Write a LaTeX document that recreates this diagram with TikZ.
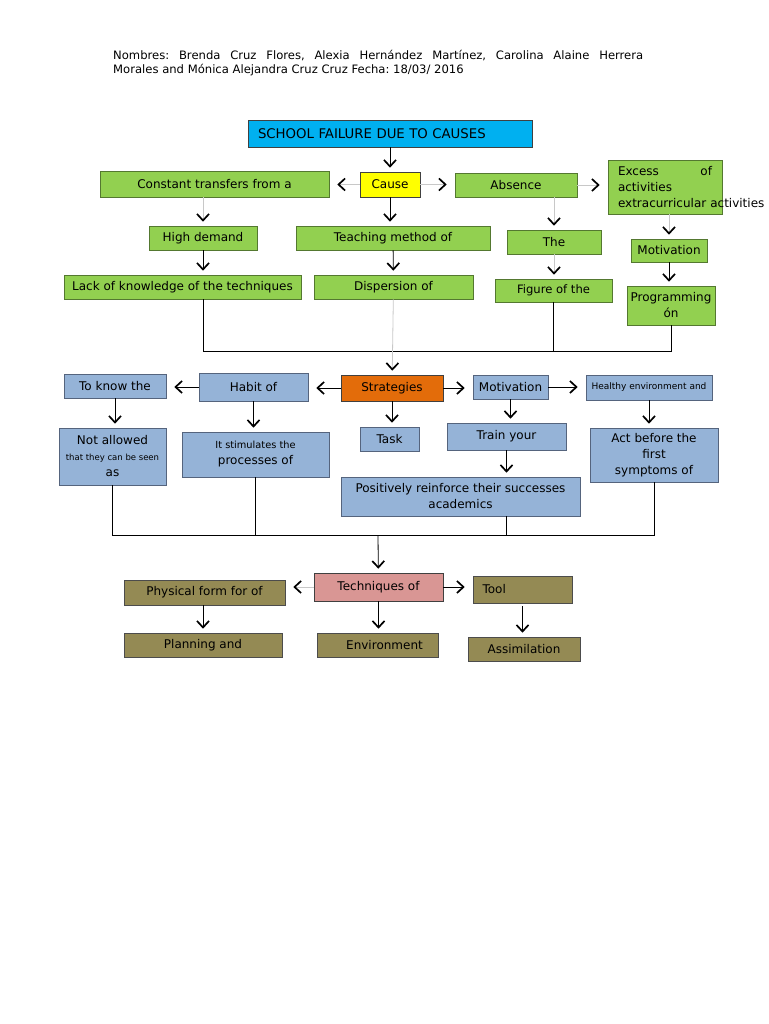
\documentclass[tikz,border=0pt]{standalone}
\usepackage{fontspec}
\setmainfont{DejaVu Sans}
\usepackage{xcolor}
\usepackage{tikz}
\usetikzlibrary{arrows.meta, positioning, calc}
\definecolor{titlecyan}{RGB}{0, 176, 240}
\definecolor{causeyellow}{RGB}{255, 255, 0}
\definecolor{leafgreen}{RGB}{146, 208, 80}
\definecolor{leafline}{RGB}{84, 120, 48}
\definecolor{stratorange}{RGB}{227, 108, 10}
\definecolor{skyblue}{RGB}{149, 179, 215}
\definecolor{skyline}{RGB}{85, 100, 125}
\definecolor{rosepink}{RGB}{217, 150, 148}
\definecolor{khakibox}{RGB}{148, 138, 84}
\definecolor{faintgray}{RGB}{200, 200, 200}
\frenchspacing

\begin{document}
\begin{tikzpicture}[
    x=1pt, y=-1pt,
    topic/.style={rectangle, draw=black!75, line width=0.6pt,
                  font=\fontsize{12}{16}\selectfont, align=center, inner sep=2pt},
    greenbox/.style={topic, draw=leafline, fill=leafgreen},
    bluebox/.style={topic, draw=skyline, fill=skyblue},
    khaki/.style={topic, draw=black!70, fill=khakibox},
    link/.style={-{Straight Barb[length=6.5pt, width=12pt, line width=1.7pt, color=black]},
                 line width=0.8pt, black, shorten >=4pt},
    faintlink/.style={link, draw=faintgray},
    side/.style={shorten >=8pt},
    bus/.style={line width=0.8pt, black},
]
\useasboundingbox (0,0) rectangle (768,1024);

%% ── Header ──────────────────────────────────────────────────────────────────
\node[anchor=north west, text width=530, align=justify, inner sep=0pt,
      font=\fontsize{11.6}{14}\selectfont] (names) at (113,50)
     {Nombres: Brenda Cruz Flores, Alexia Hernández Martínez, Carolina Alaine Herrera\linebreak Morales and Mónica Alejandra Cruz Cruz Fecha: 18/03/ 2016};

%% ── Causes (green) ──────────────────────────────────────────────────────────
\node[topic, fill=titlecyan, minimum width=284, minimum height=27,
      text width=264, align=left, font=\fontsize{13.3}{16}\selectfont] (title) at (390,133.5) {SCHOOL FAILURE DUE TO CAUSES};
\node[topic, fill=causeyellow, minimum width=60, minimum height=25] (cause) at (390,184.5) {Cause};
\node[greenbox, minimum width=229, minimum height=26]   (ctrans) at (214.5,184) {Constant transfers from a};
\node[greenbox, minimum width=122, minimum height=24]   (absence) at (516,185)  {Absence};
\node[greenbox, minimum width=114, minimum height=54,
      text width=94, align=left]                        (excess) at (665,187)
     {Excess \hfill of\\activities\\\mbox{extracurricular activities}};
\node[greenbox, minimum width=108, minimum height=24]   (highd)  at (203,238)   {High demand};
\node[greenbox, minimum width=194, minimum height=24]   (teach)  at (393,238)   {Teaching method of};
\node[greenbox, minimum width=94, minimum height=24]    (the)    at (554,242)   {The};
\node[greenbox, minimum width=76, minimum height=23]    (motivg) at (669,250.5) {Motivation};
\node[greenbox, minimum width=237, minimum height=24]   (lack)   at (182.5,287) {Lack of knowledge of the techniques};
\node[greenbox, minimum width=159, minimum height=24]   (disp)   at (393.5,287) {Dispersion of};
\node[greenbox, minimum width=117, minimum height=23,
      font=\fontsize{11.6}{13}\selectfont]              (figure) at (553.5,290.5) {Figure of the};
\node[greenbox, minimum width=88, minimum height=39]    (prog)   at (671,305.5) {Programming\\ón};

\draw[link] (title) -- (cause);
\draw[faintlink, side] (cause.west) -- (cause.west -| ctrans.east);
\draw[faintlink, side] (cause.east) -- (cause.east -| absence.west);
\draw[faintlink, side] (absence.east) -- (absence.east -| excess.west);
\draw[link] (cause) -- (cause |- teach.north);
\draw[faintlink] (ctrans.south -| highd) -- (highd);
\draw[link] (highd) -- (highd |- lack.north);
\draw[link] (teach) -- (disp);
\draw[faintlink] (absence.south -| the) -- (the);
\draw[faintlink] (the) -- (the |- figure.north);
\draw[faintlink] (excess.south -| motivg) -- (motivg.north -| motivg);
\draw[link] (motivg) -- (motivg |- prog.north);

%% ── Strategies (blue) ───────────────────────────────────────────────────────
\coordinate (busA) at (392,351);
\coordinate (lackfoot) at (lack.south -| highd);
\node[topic, fill=stratorange, minimum width=102, minimum height=26] (strat) at (392,388) {Strategies};
\node[bluebox, minimum width=102, minimum height=24]    (know)   at (115,386)   {To know the};
\node[bluebox, minimum width=109, minimum height=28]    (habit)  at (253.5,387) {Habit of};
\node[bluebox, minimum width=75, minimum height=24]     (motivb) at (510.5,387) {Motivation};
\node[bluebox, minimum width=126, minimum height=25,
      font=\fontsize{9}{11}\selectfont]                 (healthy) at (649,387.5) {Healthy environment and};
\node[bluebox, minimum width=107, minimum height=57]     (notall) at (112.5,456.5)
     {Not allowed\\{\fontsize{8.5}{11}\selectfont that they can be seen}\\as};
\node[bluebox, minimum width=147, minimum height=45]     (stim)   at (255.5,454.5)
     {{\fontsize{9.8}{12}\selectfont It stimulates the}\\processes of};
\node[bluebox, minimum width=59, minimum height=24]      (task)   at (389.5,439) {Task};
\node[bluebox, minimum width=119, minimum height=27]     (train)  at (506.5,436.5) {Train your};
\node[bluebox, minimum width=128, minimum height=54]     (act)    at (654,455)
     {Act before the\\first\\symptoms of};
\node[bluebox, minimum width=239, minimum height=39]     (posit)  at (460.5,496.5)
     {Positively reinforce their successes\\academics};

\draw[bus] (lackfoot) -- (lackfoot |- busA) -| (prog.south);
\draw[bus] (figure.south) -- (figure.south |- busA);
\draw[faintlink] (disp) -- (strat);
\draw[link, side] (strat.west) -- (strat.west -| habit.east);
\draw[link, side] (habit.west) -- (habit.west -| know.east);
\draw[link, side] (strat.east) -- (strat.east -| motivb.west);
\draw[link, side] (motivb.east) -- (motivb.east -| healthy.west);
\draw[link] (strat) -- (strat |- task.north);
\draw[link] (habit) -- (habit |- stim.north);
\draw[link] (know) -- (know |- notall.north);
\draw[link] (motivb) -- (motivb |- train.north);
\draw[link] (healthy) -- (healthy |- act.north);
\draw[link] (train) -- (train |- posit.north);

%% ── Techniques (khaki) ──────────────────────────────────────────────────────
\coordinate (busB) at (378,535);
\coordinate (positfoot) at (posit.south -| train);
\node[topic, fill=rosepink, minimum width=129, minimum height=28] (tech) at (378.5,587) {Techniques of};
\node[khaki, minimum width=161, minimum height=25]       (phys)   at (204.5,592.5) {Physical form for of};
\node[khaki, minimum width=99, minimum height=27,
      text width=80, align=left]                        (tool)   at (522.5,589.5) {Tool};
\node[khaki, minimum width=158, minimum height=24]       (plan)   at (203,645)   {Planning and};
\node[khaki, minimum width=121, minimum height=24]       (envir)  at (377.5,645) {\hspace{14pt}Environment};
\node[khaki, minimum width=112, minimum height=24]       (assim)  at (524,649)   {Assimilation};

\draw[bus] (notall.south) -- (notall.south |- busB) -| (act.south);
\draw[bus] (stim.south) -- (stim.south |- busB);
\draw[bus] (positfoot) -- (positfoot |- busB);
\draw[link] (busB) -- (tech);
\draw[faintlink, side] (tech.west) -- (tech.west -| phys.east);
\draw[link, side] (tech.east) -- (tech.east -| tool.west);
\draw[link] (phys.south -| plan) -- (plan);
\draw[link] (tech) -- (tech |- envir.north);
\draw[link, shorten <=3pt] (tool) -- (tool |- assim.north);

\end{tikzpicture}
\end{document}
